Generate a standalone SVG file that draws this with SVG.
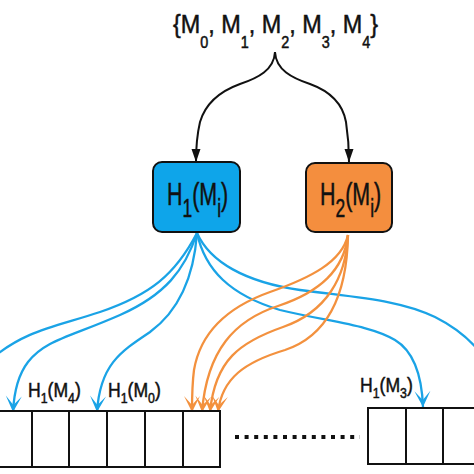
<svg xmlns="http://www.w3.org/2000/svg" width="474" height="474" viewBox="0 0 474 474">
<style>
text{font-family:"Liberation Sans",Arial,sans-serif;fill:#111;stroke:#111;stroke-width:0.5}
.blue{fill:none;stroke:#1aa3e6;stroke-width:2.3}
.orange{fill:none;stroke:#f3913e;stroke-width:2.3}
.black{fill:none;stroke:#111;stroke-width:2}
.cell{fill:#fff;stroke:#111;stroke-width:2}
</style>
<defs>
<marker id="ab" markerUnits="userSpaceOnUse" markerWidth="26" markerHeight="26" refX="0" refY="0" viewBox="-18 -13 20 26" orient="auto"><path d="M0,0 L-16,-8 L-7,0 L-16,8 Z" fill="#1aa3e6"/></marker>
<marker id="ao" markerUnits="userSpaceOnUse" markerWidth="26" markerHeight="26" refX="0" refY="0" viewBox="-18 -13 20 26" orient="auto"><path d="M0,0 L-16,-8 L-7,0 L-16,8 Z" fill="#f3913e"/></marker>
<marker id="ak" markerUnits="userSpaceOnUse" markerWidth="20" markerHeight="20" refX="0" refY="0" viewBox="-14 -10 16 20" orient="auto"><path d="M0,0 L-13,-4.5 L-13,4.5 Z" fill="#111"/></marker>
</defs>
<g id="set">
<text transform="translate(173,33) scale(0.9,1)" font-size="26">{M<tspan dy="15" font-size="16">0</tspan><tspan dy="-15">, M</tspan><tspan dy="15" font-size="16">1</tspan><tspan dy="-15">, M</tspan><tspan dy="15" font-size="16">2</tspan><tspan dy="-15">, M</tspan><tspan dy="15" font-size="16">3</tspan><tspan dy="-15">, M</tspan><tspan dy="15" font-size="16">4</tspan><tspan dy="-15">}</tspan></text>
</g>
<g id="connectors">
<path class="black" d="M275,52 C274,70 258,78 240,84 C218,92 205,105 200,122 C197,135 196,145 196,162" marker-end="url(#ak)"/>
<path class="black" d="M275,52 C276,70 292,78 310,84 C332,92 343,105 346,122 C348,135 349,145 349,162" marker-end="url(#ak)"/>
<path class="blue" d="M197,233 C175,275 150,295 100,312 C55,327 25,330 -10,360"/>
<path class="blue" d="M197,233 C185,270 165,295 120,315 C70,337 45,340 28,362 C18,375 14,392 13,412" marker-end="url(#ab)"/>
<path class="blue" d="M197,233 C194,275 180,310 150,332 C120,352 100,365 97,412" marker-end="url(#ab)"/>
<path class="blue" d="M197,233 C205,270 230,295 280,310 C330,322 370,325 395,340 C415,352 422,380 423,407" marker-end="url(#ab)"/>
<path class="blue" d="M197,233 C210,262 245,282 300,290 C360,298 400,300 435,317 C455,327 470,340 480,352"/>
<path class="orange" d="M348,235 C342,262 310,278 270,292 C225,308 200,335 194,370 C192,385 192,400 192,412" marker-end="url(#ao)"/>
<path class="orange" d="M348,235 C344,270 320,292 278,306 C235,320 207,350 202,412" marker-end="url(#ao)"/>
<path class="orange" d="M348,235 C346,278 326,312 283,327 C240,342 215,360 210,412" marker-end="url(#ao)"/>
<path class="orange" d="M348,235 C347,290 330,335 285,350 C245,362 222,378 218,412" marker-end="url(#ao)"/>
</g>
<g id="h1">
<rect x="153" y="162" width="87" height="70" rx="9" fill="#0ea5ea" stroke="#111" stroke-width="2"/>
<text transform="translate(167,205) scale(0.67,1)" font-size="32">H<tspan dy="12" font-size="26">1</tspan><tspan dy="-12">(M</tspan><tspan dy="12" font-size="26">i</tspan><tspan dy="-12">)</tspan></text>
</g>
<g id="h2">
<rect x="306" y="163" width="86" height="69" rx="9" fill="#f48e3e" stroke="#111" stroke-width="2"/>
<text transform="translate(320,205) scale(0.67,1)" font-size="32">H<tspan dy="12" font-size="26">2</tspan><tspan dy="-12">(M</tspan><tspan dy="12" font-size="26">i</tspan><tspan dy="-12">)</tspan></text>
</g>
<g id="table-left">
<rect class="cell" x="-5" y="411" width="37" height="56"/>
<rect class="cell" x="32" y="411" width="37" height="56"/>
<rect class="cell" x="69" y="411" width="38" height="56"/>
<rect class="cell" x="107" y="411" width="38" height="56"/>
<rect class="cell" x="145" y="411" width="38" height="56"/>
<rect class="cell" x="183" y="411" width="37" height="56"/>
</g>
<g id="dots">
<line x1="235" y1="437" x2="360" y2="437" stroke="#111" stroke-width="4" stroke-dasharray="4 5.6"/>
</g>
<g id="table-right">
<rect class="cell" x="368" y="408" width="38" height="56"/>
<rect class="cell" x="406" y="408" width="37" height="56"/>
<rect class="cell" x="443" y="408" width="40" height="56"/>
</g>
<g id="labels">
<text transform="translate(28,397) scale(0.88,1)" font-size="20">H<tspan dy="6" font-size="14">1</tspan><tspan dy="-6">(M</tspan><tspan dy="6" font-size="14">4</tspan><tspan dy="-6">)</tspan></text>
<text transform="translate(108,397) scale(0.88,1)" font-size="20">H<tspan dy="6" font-size="14">1</tspan><tspan dy="-6">(M</tspan><tspan dy="6" font-size="14">0</tspan><tspan dy="-6">)</tspan></text>
<text transform="translate(360,392) scale(0.88,1)" font-size="20">H<tspan dy="6" font-size="14">1</tspan><tspan dy="-6">(M</tspan><tspan dy="6" font-size="14">3</tspan><tspan dy="-6">)</tspan></text>
</g>
</svg>
